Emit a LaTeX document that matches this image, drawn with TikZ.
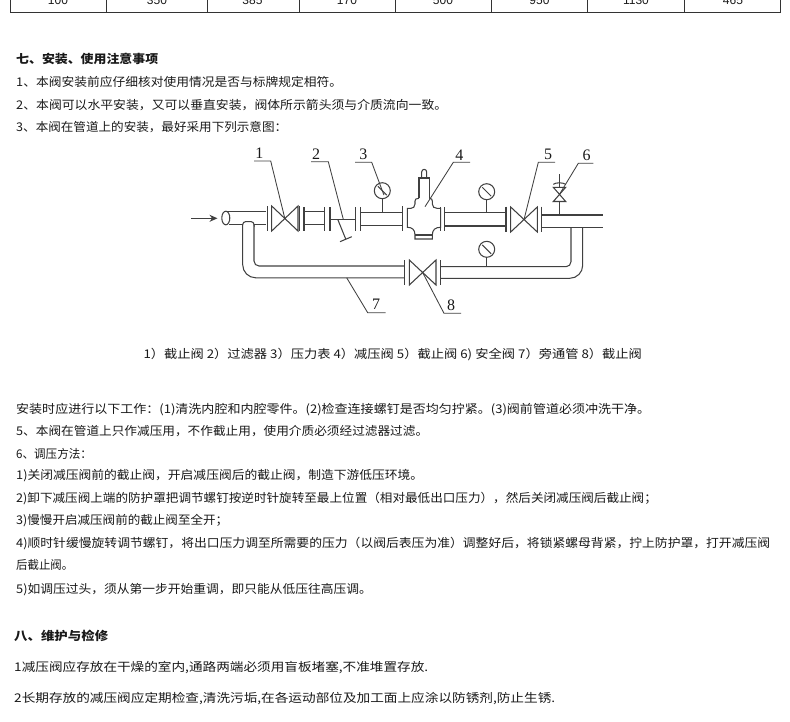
\documentclass[tikz,border=0pt]{standalone}
\usepackage{fontspec}
\usepackage{graphicx}
\usetikzlibrary{arrows.meta,calc}
\setmainfont{Noto Sans CJK SC}
\newfontfamily\numfont{Liberation Sans}
\newfontfamily\lblfont{Liberation Serif}
\newsavebox\tlbox
% name, x, baseline y, width, font switches, text
\newcommand\tline[6]{\node[anchor=base west,inner sep=0pt,text=txt] (#1) at (#2,#3) {\sbox\tlbox{\fontsize{12}{14}\selectfont #5#6}\pgfmathsetmacro\tlratio{#4/\the\wd\tlbox}\scalebox{\tlratio}[1]{\usebox\tlbox}};}
\newcommand\flange[3]{\draw[pipeline] (#1,#2) -- (#1,#3);}
\newcommand\valvetie[5]{\coordinate (#1) at ({(#2+#3)/2},{(#4+#5)/2});\draw[pipeline] (#2,#4) -- (#3,#5) -- (#3,#4) -- (#2,#5) -- cycle;}
\newcommand\gaugedial[3]{\node[gaugebox] (#1) at (#2,#3) {};\draw[pipeline] ($(#1.north west)+(1.6,1.6)$) -- ($(#1.south east)+(-1.6,-1.6)$);}
\definecolor{txt}{gray}{0.1}
\definecolor{ink}{gray}{0.25}
\tikzset{
  pipeline/.style={draw=ink,line width=1.05pt},
  leader/.style={draw=ink,line width=0.85pt},
  gaugebox/.style={circle,draw=ink,line width=1.05pt,minimum size=16pt,inner sep=0pt},
  numlabel/.style={inner sep=0pt,font=\lblfont\fontsize{16}{17}\selectfont,text=black!90},
  cellnum/.style={anchor=base,inner sep=0pt,font=\numfont\fontsize{12}{14}\selectfont,text=txt},
  tablerule/.style={draw=black!80,line width=1pt},
}
\begin{document}
\begin{tikzpicture}[x=1pt,y=-1pt]
\useasboundingbox (0,0) rectangle (790,721);
% table remnant
\begin{scope}
\clip (0,0) rectangle (790,30);
\draw[tablerule] (10,-5) -- (10,12) -- (780.5,12) -- (780.5,-5);
\foreach \x in {106.7,207,299,395,491.7,587.7,684.3}{\draw[tablerule] (\x,-5) -- (\x,12);}
\node[cellnum] (c1) at (58,4.5) {100};
\node[cellnum] (c2) at (157,4.5) {350};
\node[cellnum] (c3) at (252.5,4.5) {385};
\node[cellnum] (c4) at (347,4.5) {170};
\node[cellnum] (c5) at (443,4.5) {500};
\node[cellnum] (c6) at (539.5,4.5) {950};
\node[cellnum] (c7) at (636,4.5) {1130};
\node[cellnum] (c8) at (733,4.5) {465};
\end{scope}
% text
\tline{t0}{16}{63.5}{142}{\bfseries}{七、安装、使用注意事项}
\tline{t1}{16}{86}{326}{}{1、本阀安装前应仔细核对使用情况是否与标牌规定相符。}
\tline{t2}{16}{109.5}{431}{}{2、本阀可以水平安装，又可以垂直安装，阀体所示箭头须与介质流向一致。}
\tline{t3}{16}{131.5}{271}{}{3、本阀在管道上的安装，最好采用下列示意图：}
\tline{cap}{143.3}{358}{498.4}{}{1）截止阀 2）过滤器 3）压力表 4）减压阀 5）截止阀 6)\kern3pt 安全阀 7）旁通管 8）截止阀}
\tline{t4}{16}{413}{634}{}{安装时应进行以下工作：(1)清洗内腔和内腔零件。(2)检查连接螺钉是否均匀拧紧。(3)阀前管道必须冲洗干净。}
\tline{t5}{16}{435.5}{412}{}{5、本阀在管道上只作减压用，不作截止用，使用介质必须经过滤器过滤。}
\tline{t6}{16}{458}{75.7}{}{6、调压方法：}
\tline{t7}{16}{479.5}{407}{}{1)关闭减压阀前的截止阀，开启减压阀后的截止阀，制造下游低压环境。}
\tline{t8}{16}{502}{640.7}{}{2)卸下减压阀上端的防护罩把调节螺钉按逆时针旋转至最上位置（相对最低出口压力），然后关闭减压阀后截止阀；}
\tline{t9}{16}{524.5}{212}{}{3)慢慢开启减压阀前的截止阀至全开；}
\tline{t10}{16}{547}{754}{}{4)顺时针缓慢旋转调节螺钉，将出口压力调至所需要的压力（以阀后表压为准）调整好后，将锁紧螺母背紧，拧上防护罩，打开减压阀}
\tline{t11}{16}{569.5}{57}{}{后截止阀。}
\tline{t12}{16}{593}{355.7}{}{5)如调压过头，须从第一步开始重调，即只能从低压往高压调。}
\tline{t13}{14}{640.5}{94}{\bfseries}{八、维护与检修}
\tline{t14}{14}{671}{414}{}{1减压阀应存放在干燥的室内,通路两端必须用盲板堵塞,不准堆置存放.}
\tline{t15}{14}{702}{541}{}{2长期存放的减压阀应定期检查,清洗污垢,在各运动部位及加工面上应涂以防锈剂,防止生锈.}
% inlet
\coordinate (in0) at (191,218.3);
\coordinate (in1) at (217.5,218.3);
\draw[pipeline,-{Stealth[length=8pt,width=7pt]}] (in0) -- (in1);
\draw[pipeline] (225.8,218) ellipse (4 and 6.8);
\draw[pipeline] (225.8,211.2) -- (266,211.2);
\draw[pipeline] (229,224.5) -- (242.7,224.5);
\draw[pipeline] (254,224.5) -- (266,224.5);
% valve 1
\flange{267.5}{206}{231}
\valvetie{v1}{271.7}{298}{206}{231}
\flange{299.3}{206}{231}
% spool
\flange{304}{207}{231}
\draw[pipeline] (304,211.2) -- (324.3,211.2) (304,224.5) -- (324.3,224.5);
\flange{324.3}{207}{231}
% filter
\flange{330}{207}{231}
\coordinate (fil) at (343.3,219.3);
\draw[pipeline] (330,219.3) -- (355.7,219.3);
\flange{355.7}{207}{231}
\coordinate (filend) at (345.7,239);
\draw[pipeline] (337.7,219.3) -- (filend);
\draw[pipeline] (340,241.7) -- (351.7,236.7);
% pipe to reducing valve
\flange{360.3}{207}{231}
\draw[pipeline] (360.3,212.4) -- (402.7,212.4) (360.3,225.2) -- (402.7,225.2);
\flange{402.7}{206}{231}
\gaugedial{g1}{382.3}{190.7}
\draw[pipeline] (g1.south) -- (382.3,212.4);
% reducing valve
\coordinate (rv) at (425,206.7);
\draw[pipeline] (419,198.3) -- (419,178) -- (429.3,178) -- (429.3,198.3);
\draw[pipeline] (421.7,178) -- (421.7,172) .. controls (421.7,168.5) and (426.7,168.5) .. (426.7,172) -- (426.7,178);
\draw[pipeline] (419,198.3) .. controls (416,198.6) and (415,199) .. (415,201) -- (415,204) .. controls (415,207) and (413,208.3) .. (411,208.3) -- (407.3,208.3) -- (407.3,227.3) .. controls (412,227.3) and (415,229.5) .. (415,235) -- (415,239) -- (432.3,239) -- (432.3,235) .. controls (432.3,229.5) and (435.5,227.3) .. (440.7,227.3) -- (440.7,208.3) -- (437,208.3) .. controls (434.5,208.3) and (432.3,207) .. (432.3,204) -- (432.3,201) .. controls (432.3,199) and (431.5,198.6) .. (429.3,198.3);
\draw[pipeline] (415,235) -- (432.3,235);
% mid pipe
\flange{440.7}{207}{231}
\flange{444.3}{207}{231}
\draw[pipeline] (444.3,212.7) -- (506,212.7) (444.3,226) -- (506,226);
\gaugedial{g2}{486.7}{191.7}
\draw[pipeline] (g2.south) -- (486.7,212.7);
% valve 5
\flange{506}{206.7}{231.7}
\valvetie{v5}{510.7}{537.3}{207}{232}
\flange{541.7}{206.7}{231.7}
\draw[pipeline] (541.7,215) -- (603.3,215) (541.7,227.3) -- (603.3,227.3);
% valve 6 (vertical: an hourglass)
\coordinate (v6) at (559.5,194.3);
\draw[pipeline] (553.3,187.3) -- (565.7,201.5) -- (553.3,201.5) -- (565.7,187.3) -- cycle;
\draw[pipeline] (559.3,174.3) -- (559.3,187.3);
\draw[pipeline] (553.3,184.3) .. controls (556,182.3) and (562.5,182.3) .. (565.7,184.3);
\draw[pipeline] (559.3,201.5) -- (559.3,215);
% bypass
\draw[pipeline,rounded corners=3pt] (242.7,224.5) -- (242.7,221.6) -- (254,221.6) -- (254,224.5);
\draw[pipeline,rounded corners=5pt] (254,224.5) -- (254,266) -- (404,266);
\draw[pipeline,rounded corners=13pt] (242.7,224.5) -- (242.7,277.8) -- (404,277.8);
\coordinate (by) at (346.7,277.8);
\flange{404.5}{260}{285}
\valvetie{v8}{409.3}{436}{260}{285}
\flange{440.7}{260}{285}
\draw[pipeline,rounded corners=5pt] (440.7,266.7) -- (571,266.7) -- (571,227.3);
\draw[pipeline,rounded corners=13pt] (440.7,278.3) -- (582.7,278.3) -- (582.7,227.3);
\gaugedial{g3}{486.7}{249.3}
\draw[pipeline] (g3.south) -- (486.7,266.7);
% leaders
\coordinate (u1a) at (254,161); \coordinate (u1b) at (270.7,161);
\coordinate (u2a) at (311,161.7); \coordinate (u2b) at (328.3,161.7);
\coordinate (u3a) at (355,162.3); \coordinate (u3b) at (371.7,162.3);
\coordinate (u4a) at (470,162.3); \coordinate (u4b) at (453.3,162.3);
\coordinate (u5a) at (555,162.3); \coordinate (u5b) at (538.3,162.3);
\coordinate (u6a) at (593.3,163.3); \coordinate (u6b) at (578.3,163.3);
\coordinate (u7a) at (385.7,312.7); \coordinate (u7b) at (367.7,312.7);
\coordinate (u8a) at (461,313.3); \coordinate (u8b) at (444,313.3);
\coordinate (g1n) at (383.9,195);
\draw[leader] (u1a) -- (u1b) -- (v1);
\draw[leader] (u2a) -- (u2b) -- (fil);
\draw[leader] (u3a) -- (u3b) -- (g1n);
\draw[leader] (u4a) -- (u4b) -- (rv);
\draw[leader] (u5a) -- (u5b) -- (v5);
\draw[leader] (u6a) -- (u6b) -- (v6);
\draw[leader] (u7a) -- (u7b) -- (by);
\draw[leader] (u8a) -- (u8b) -- (v8);
\node[numlabel] (n1) at (259.3,153.5) {1};
\node[numlabel] (n2) at (316,154) {2};
\node[numlabel] (n3) at (363.3,154) {3};
\node[numlabel] (n4) at (459.3,155) {4};
\node[numlabel] (n5) at (548,154.5) {5};
\node[numlabel] (n6) at (586.7,155) {6};
\node[numlabel] (n7) at (376,304) {7};
\node[numlabel] (n8) at (451,305) {8};
\end{tikzpicture}
\end{document}
